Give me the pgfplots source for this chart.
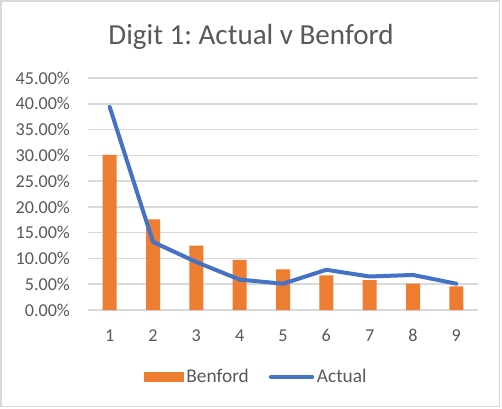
\documentclass[border=0pt]{standalone}
\usepackage{pgfplots}
\pgfplotsset{compat=1.18}
\usepackage{fontspec}
\setmainfont{Carlito}
\frenchspacing
\definecolor{benf}{HTML}{ED7D31}
\definecolor{act}{HTML}{4472C4}
\definecolor{gridc}{HTML}{D9D9D9}
\definecolor{txt}{HTML}{595959}
\begin{document}
\begin{tikzpicture}
\fill[white] (0,0) rectangle (376.5pt,306pt);
\draw[gridc, line width=1.2pt] (0.6pt,1.2pt) rectangle (374.5pt,305.4pt);
\node[text=txt, font=\fontsize{21.8}{26}\selectfont] at (188.25pt,278.5pt) {Digit 1: Actual v Benford};
\begin{axis}[
  at={(66pt,73.5pt)}, anchor=south west,
  scale only axis, width=292.5pt, height=174pt,
  xmin=0.5, xmax=9.5, ymin=0, ymax=45,
  xtick={1,...,9}, ytick={0,5,...,45},
  axis line style={draw=none},
  major tick length=0pt,
  ymajorgrids, grid style={gridc, line width=1.1pt},
  /pgf/number format/assume math mode=true,
  yticklabel={\pgfmathprintnumber[fixed,fixed zerofill,precision=2]{\tick}\%},
  tick label style={text=txt, font=\fontsize{13.6}{16}\selectfont},
  yticklabel style={xshift=-10pt},
  xticklabel style={yshift=-11pt},
  legend columns=2,
  legend style={at={(0.432,-0.289)}, anchor=center, draw=none, fill=none,
    font=\fontsize{14.5}{16}\selectfont, text=txt,
    /tikz/every even column/.append style={column sep=13pt}},
]
\addplot[ybar, bar width=10.5pt, fill=benf, draw=none,
  legend image code/.code={\fill[benf] (-3pt,-3.75pt) rectangle (27pt,3.75pt);}]
  coordinates {(1,30.1) (2,17.6) (3,12.5) (4,9.7) (5,7.9) (6,6.7) (7,5.8) (8,5.1) (9,4.6)};
\addlegendentry{Benford}
\addplot[act, line width=3pt, line cap=round, line join=round, mark=none,
  legend image code/.code={\draw[act, line width=3pt, line cap=round] (-1pt,0pt) -- (30pt,0pt);}]
  coordinates {(1,39.4) (2,13.2) (3,9.3) (4,5.9) (5,5.1) (6,7.8) (7,6.5) (8,6.8) (9,5.1)};
\addlegendentry{Actual}
\end{axis}
\end{tikzpicture}
\end{document}
